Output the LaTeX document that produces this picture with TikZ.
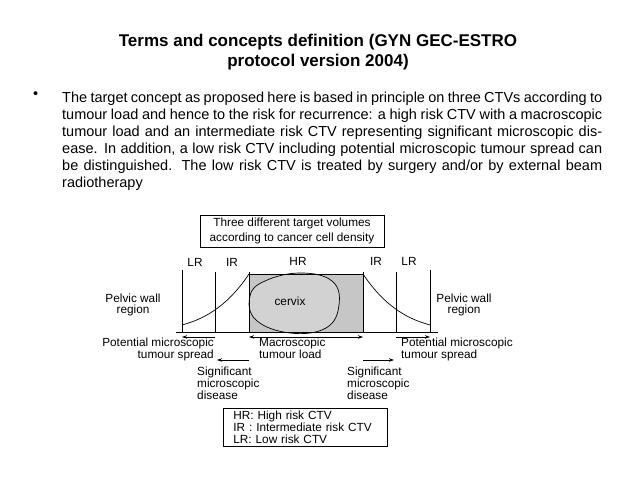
\documentclass[tikz,border=0pt]{standalone}
\usepackage{fontspec}
\setmainfont{Liberation Sans}
\usetikzlibrary{arrows.meta}
\begin{document}
\begin{tikzpicture}[x=1pt,y=-1pt,
  lbl/.style={font=\fontsize{11.8}{11.8}\selectfont,inner sep=0pt},
  arr/.style={-{Stealth[length=5pt,width=3.5pt]},line width=0.7pt},
  vl/.style={line width=0.9pt}]
\useasboundingbox (0,0) rectangle (638,478);
\node[font=\bfseries\fontsize{17}{20}\selectfont,align=center] (title) at (318,52) {Terms and concepts definition (GYN GEC-ESTRO\\protocol version 2004)};
\node[font=\fontsize{14.5}{17}\selectfont,anchor=north west,inner sep=0pt] (bul) at (33,92) {\textbullet};
\node[font=\fontsize{14.5}{17}\selectfont,anchor=north west,inner sep=0pt,text width=540pt,align=justify] (para) at (62,92) {\hyphenpenalty=10000 The target concept as proposed here is based in principle on three CTVs according to tumour load and hence to the risk for recurrence: a high risk CTV with a macroscopic tumour load and an intermediate risk CTV representing significant microscopic disease. In addition, a low risk CTV including potential microscopic tumour spread can be distinguished. The low risk CTV is treated by surgery and/or by external beam radiotherapy};
% diagram
\node[draw,line width=0.7pt,font=\fontsize{11.8}{15}\selectfont,inner sep=0pt,align=center,minimum width=184pt,minimum height=32pt] (top) at (292,231) {Three different target volumes\\according to cancer cell density};
\fill[gray!45] (249,274) rectangle (363,332);
\draw[fill=gray!35,line width=0.7pt] plot[smooth cycle,tension=0.7] coordinates {(265,281) (300,273) (332,281) (339,305) (326,328) (290,333) (256,320) (250,296)};
\draw[line width=0.9pt] (249,274) rectangle (363,332);
\coordinate (b0) at (176,332); \coordinate (b1) at (438,332);
\draw[vl] (b0) -- (b1);
\foreach \n/\x/\t in {l1/182/270,l2/215/272,l3/249/272,r3/363/272,r2/396/272,r1/430/270}{
  \coordinate (\n t) at (\x,\t); \coordinate (\n b) at (\x,332);
  \draw[vl] (\n t) -- (\n b);}
\draw[line width=0.7pt] (182,325) .. controls (200,320) and (225,310) .. (249,274);
\draw[line width=0.7pt] (363,274) .. controls (387,310) and (412,320) .. (430,325);
\node[lbl] (LR1) at (195,262) {LR};
\node[lbl] (IR1) at (232,262) {IR};
\node[lbl] (HR) at (298,261) {HR};
\node[lbl] (IR2) at (376,261) {IR};
\node[lbl] (LR2) at (409,261) {LR};
\node[lbl] (cx) at (290,301) {cervix};
\node[lbl,align=center] (pwl) at (133,305) {Pelvic wall\\region};
\node[lbl,align=center] (pwr) at (464,305) {Pelvic wall\\region};
\draw[arr] (l2b) ++(0,5) -- ++(-33,0);
\draw[arr,{Stealth[length=5pt,width=3.5pt]}-{Stealth[length=5pt,width=3.5pt]}] (l3b) ++(0,5) -- ++(114,0);
\draw[arr] (r2b) ++(0,5) -- ++(34,0);
\node[lbl,align=right,anchor=north east] (pml) at (214,338) {Potential microscopic\\tumour spread};
\node[lbl,align=left,anchor=north west] (mtl) at (259,338) {Macroscopic\\tumour load};
\node[lbl,align=left,anchor=north west] (pmr) at (401,338) {Potential microscopic\\tumour spread};
\coordinate (s1) at (249,360); \coordinate (s2) at (217,360);
\draw[arr] (s1) -- (s2);
\coordinate (s3) at (363,360); \coordinate (s4) at (394,360);
\draw[arr] (s3) -- (s4);
\node[lbl,align=left,anchor=north west] (sml) at (197,367) {Significant\\microscopic\\disease};
\node[lbl,align=left,anchor=north west] (smr) at (347,367) {Significant\\microscopic\\disease};
\node[draw,line width=0.7pt,lbl,align=left,anchor=north west,minimum width=164pt,minimum height=38pt,inner xsep=10pt,text width=144pt] (leg) at (223,408) {HR: High risk CTV\\IR : Intermediate risk CTV\\LR: Low risk CTV};
\end{tikzpicture}
\end{document}
